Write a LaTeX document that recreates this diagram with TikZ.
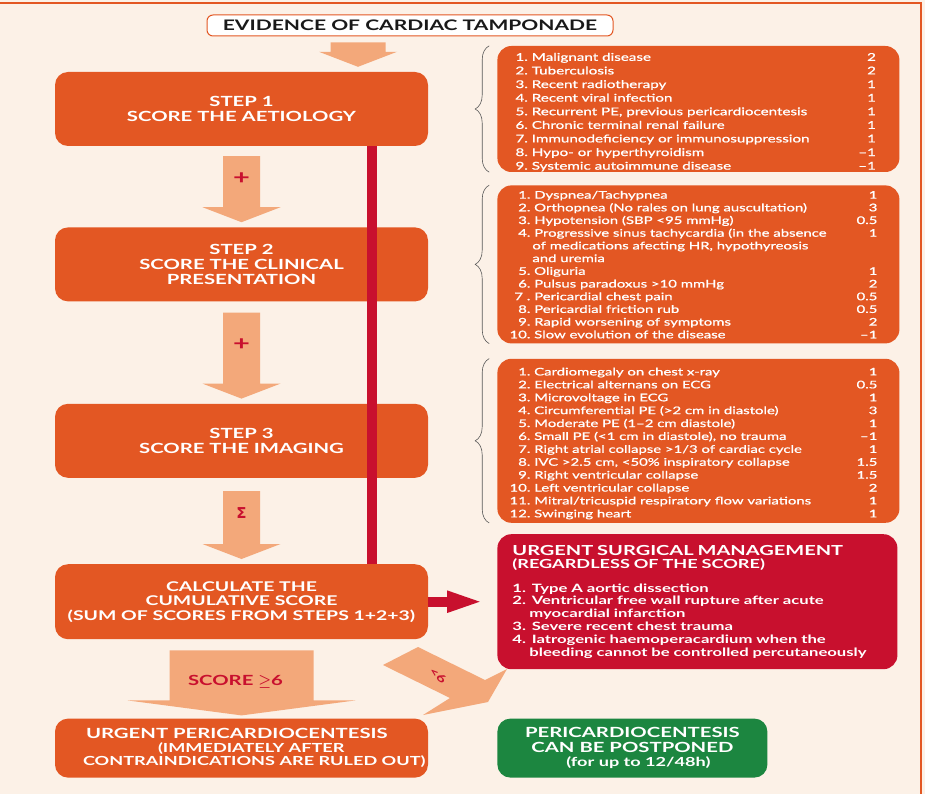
\documentclass[tikz,border=0pt]{standalone}
\usepackage{amsmath, amssymb}
\usepackage[no-math]{fontspec}
\setmainfont{Lato}[FakeStretch=1.45]
\newfontfamily\listfont{Lato}[FakeStretch=1.42, FakeBold=1]
\newfontfamily\symbfont{DejaVu Sans}
\usetikzlibrary{calc, positioning, arrows.meta, decorations.pathreplacing}

\definecolor{cream}{RGB}{252,241,231}
\definecolor{boxorange}{RGB}{227,87,35}
\definecolor{paleorange}{RGB}{243,168,122}
\definecolor{crimson}{RGB}{200,16,46}
\definecolor{boxgreen}{RGB}{28,134,64}

\tikzset{
  stepbox/.style={fill=boxorange, rounded corners=13pt, minimum width=373pt, minimum height=74pt,
    text=white, align=center, inner sep=0pt, font=\fontsize{14}{14.8}\selectfont\bfseries},
  listbox/.style={fill=boxorange, rounded corners=14pt, minimum width=402pt, text=white, inner sep=0pt},
  listtext/.style={text=white, inner sep=0pt},
  titlebox/.style={fill=white, draw=boxorange, line width=1pt, rounded corners=6pt, minimum width=406pt,
    minimum height=21pt, inner sep=0pt, text=black!90, font=\fontsize{14.5}{15}\selectfont\bfseries},
  fatfill/.style={fill=paleorange},
  redline/.style={draw=crimson, line width=10pt},
  oplabel/.style={text=crimson, font=\fontsize{20}{20}\selectfont\bfseries},
  listbrace/.style={draw=black!65, line width=0.6pt, decorate, decoration={brace, amplitude=14pt}},
}

% block arrow: top point, tip point, half shaft, half head, head length
\newcommand{\fatarrow}[5]{%
  \fill[fatfill] let \p1=(#1), \p2=(#2) in
    (\x2-#3,\y1) -- (\x2+#3,\y1) -- (\x2+#3,\y2+#5) -- (\x2+#4,\y2+#5)
    -- (\x2,\y2) -- (\x2-#4,\y2+#5) -- (\x2-#3,\y2+#5) -- cycle;}
% one scored row of a list
\newcommand{\scorerow}[3]{\makebox[13pt][r]{#1}\ #2 & #3\\}

\begin{document}
\begin{tikzpicture}[x=1pt, y=-1pt]
  \useasboundingbox (0,0) rectangle (925,794);
  \fill[cream] (0,0) rectangle (925,794);
  \draw[boxorange, line width=1.5pt] (0,3) -- (921,3) -- (921,794);

  % 1. title and the three steps
  \node[titlebox] (title) at (410,25.5) {EVIDENCE OF CARDIAC TAMPONADE};
  \node[stepbox] (step1) at (241.5,109) {STEP 1\\SCORE THE AETIOLOGY};
  \node[stepbox, below=81pt of step1] (step2) {STEP 2\\SCORE THE CLINICAL\\PRESENTATION};
  \node[stepbox, below=102pt of step2] (step3) {STEP 3\\SCORE THE IMAGING};
  \node[stepbox, below=86pt of step3, minimum height=75pt, font=\fontsize{13.4}{14.5}\selectfont\bfseries] (cumul)
    {CALCULATE THE\\CUMULATIVE SCORE\\(SUM OF SCORES FROM STEPS 1+2+3)};

  % 2. outcome boxes
  \node[stepbox, below=79pt of cumul, minimum height=59pt] (pericard) {};
  \node[text=white, anchor=west, align=left, inner sep=0pt, font=\fontsize{12.5}{13.5}\selectfont\bfseries]
    at ($(pericard.west)+(28,0)$)
    {{\fontsize{14}{14}\selectfont\hspace*{3pt}URGENT PERICARDIOCENTESIS}\\
     \hspace*{75pt}(IMMEDIATELY AFTER\\CONTRAINDICATIONS ARE RULED OUT)};
  \node[stepbox, fill=boxgreen, minimum width=270pt, minimum height=59pt, right=69pt of pericard] (postpone)
    {PERICARDIOCENTESIS\\CAN BE POSTPONED\\{\fontsize{12.5}{14}\selectfont\hspace*{12pt}(for up to 12/48h)}};
  \node[listbox, fill=crimson, minimum width=400pt, minimum height=135pt, right=69pt of cumul,
    text width=370pt, align=left, font=\fontsize{11.5}{12.8}\selectfont\bfseries] (surgery)
    {{\fontsize{13.8}{14}\selectfont URGENT SURGICAL MANAGEMENT}\\
     {\fontsize{12.5}{14}\selectfont (REGARDLESS OF THE SCORE)}\\[11pt]
     1. Type A aortic dissection\\
     2. Ventricular free wall rupture after acute\\
     \hspace*{17pt}myocardial infarction\\
     3. Severe recent chest trauma\\
     4. Iatrogenic haemoperacardium when the\\
     \hspace*{17pt}bleeding cannot be controlled percutaneously};

  % 3. score lists
  \node[listbox, minimum height=126pt, right=69pt of step1] (aetlist) {};
  \node[listtext, font=\listfont\fontsize{10.7}{13.6}\selectfont] at ($(aetlist)+(-3,3.5)$)
    {\begin{tabular*}{361pt}{@{}l@{\extracolsep{\fill}}r@{}}
      \scorerow{1.}{Malignant disease}{2}
      \scorerow{2.}{Tuberculosis}{2}
      \scorerow{3.}{Recent radiotherapy}{1}
      \scorerow{4.}{Recent viral infection}{1}
      \scorerow{5.}{Recurrent PE, previous pericardiocentesis}{1}
      \scorerow{6.}{Chronic terminal renal failure}{1}
      \scorerow{7.}{Immunodeficiency or immunosuppression}{1}
      \scorerow{8.}{Hypo- or hyperthyroidism}{–1}
      \scorerow{9.}{Systemic autoimmune disease}{–1}
    \end{tabular*}};
  \node[listbox, minimum height=158pt, right=69pt of step2] (clinlist) {};
  \node[listtext, font=\listfont\fontsize{10.5}{12.7}\selectfont] at ($(clinlist)+(-1,1.5)$)
    {\begin{tabular*}{360pt}{@{}l@{\extracolsep{\fill}}r@{}}
      \scorerow{1.}{Dyspnea/Tachypnea}{1}
      \scorerow{2.}{Orthopnea (No rales on lung auscultation)}{3}
      \scorerow{3.}{Hypotension (SBP <95 mmHg)}{0.5}
      \scorerow{4.}{Progressive sinus tachycardia (in the absence}{1}
      \hspace*{15pt}of medications afecting HR, hypothyreosis & \\
      \hspace*{15pt}and uremia & \\
      \scorerow{5.}{Oliguria}{1}
      \scorerow{6.}{Pulsus paradoxus >10 mmHg}{2}
      \scorerow{7 .}{Pericardial chest pain}{0.5}
      \scorerow{8.}{Pericardial friction rub}{0.5}
      \scorerow{9.}{Rapid worsening of symptoms}{2}
      \scorerow{10.}{Slow evolution of the disease}{–1}
    \end{tabular*}};
  \node[listbox, minimum height=164pt, right=69pt of step3] (imglist) {};
  \node[listtext, font=\listfont\fontsize{10.5}{12.9}\selectfont] at ($(imglist)+(-1,3)$)
    {\begin{tabular*}{360pt}{@{}l@{\extracolsep{\fill}}r@{}}
      \scorerow{1.}{Cardiomegaly on chest x-ray}{1}
      \scorerow{2.}{Electrical alternans on ECG}{0.5}
      \scorerow{3.}{Microvoltage in ECG}{1}
      \scorerow{4.}{Circumferential PE (>2 cm in diastole)}{3}
      \scorerow{5.}{Moderate PE (1–2 cm diastole)}{1}
      \scorerow{6.}{Small PE (<1 cm in diastole), no trauma}{–1}
      \scorerow{7.}{Right atrial collapse >1/3 of cardiac cycle}{1}
      \scorerow{8.}{IVC >2.5 cm, <50\% inspiratory collapse}{1.5}
      \scorerow{9.}{Right ventricular collapse}{1.5}
      \scorerow{10.}{Left ventricular collapse}{2}
      \scorerow{11.}{Mitral/tricuspid respiratory flow variations}{1}
      \scorerow{12.}{Swinging heart}{1}
    \end{tabular*}};

  % 4. braces in front of the lists
  \foreach \lst in {aetlist, clinlist, imglist}
    \draw[listbrace] ($(\lst.south west)+(-8,0)$) -- ($(\lst.north west)+(-8,0)$);

  % 5. red bar and red arrow
  \coordinate (redx) at (372,0);
  \draw[redline] (step1.south -| redx) -- (cumul.north -| redx);
  \draw[redline, -{Triangle[length=37pt, width=19pt]}, shorten >=13pt] (cumul.east) -- (surgery.west);

  % 6. block arrows between the boxes
  \fatarrow{$(title.south)+(0,6)$}{$(step1.north)+(116.5,-5)$}{27.5pt}{39pt}{15pt}
  \fatarrow{$(step1.south)+(0,10)$}{$(step2.north)+(0,-5)$}{18.5pt}{39pt}{15pt}
  \fatarrow{$(step2.south)+(0,11)$}{$(step3.north)+(0,-5)$}{18.5pt}{39pt}{15pt}
  \fatarrow{$(step3.south)+(0,13)$}{$(cumul.north)+(0,-5)$}{18.5pt}{39pt}{15pt}
  \fatarrow{$(cumul.south)+(0,11)$}{$(pericard.north)+(0,-3)$}{72pt}{114pt}{15pt}
  \fill[fatfill] (383,665) -- (418,647) -- (485,680) -- (507,669) -- (488,702) -- (423,715) -- (450,698) -- cycle;

  % 7. labels on the arrows
  \node[oplabel] (plus1) at ($(step1.south)!0.4!(step2.north)$) {+};
  \node[oplabel] (plus2) at ($(step2.south)!0.42!(step3.north)$) {+};
  \node[text=crimson, font=\symbfont\fontsize{15}{15}\selectfont\bfseries] (sigma)
    at ($(step3.south)!0.41!(cumul.north)$) {Σ};
  \node[text=crimson, font=\fontsize{14}{14}\selectfont\bfseries] (cutoff)
    at ($(cumul.south)!0.54!(pericard.north)+(-6,0)$) {SCORE {\boldmath$\geq$}6};
  \node[text=crimson, font=\fontsize{11}{11}\selectfont\bfseries, rotate=-40, inner sep=0pt] (below6) at (438,675) {<6};
\end{tikzpicture}
\end{document}
